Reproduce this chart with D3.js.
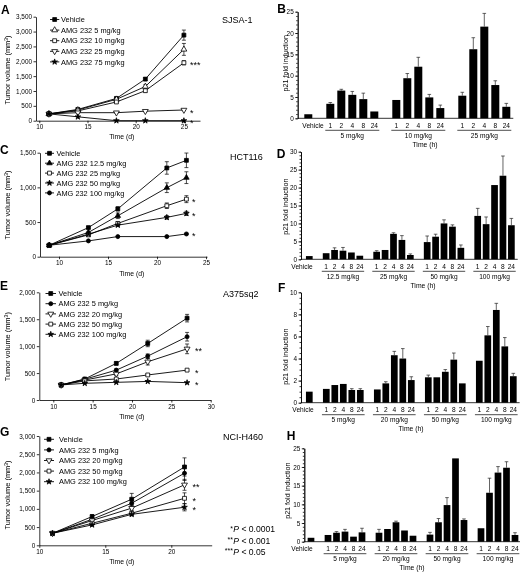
<!DOCTYPE html>
<html lang="en">
<head>
<meta charset="UTF-8">
<title>AMG 232 tumor growth and p21 induction</title>
<script src="https://d3js.org/d3.v7.min.js"></script>
<style>
  body { margin: 0; background: #fff; }
  svg { display: block; font-family: 'Liberation Sans', Arial, Helvetica, sans-serif; will-change: transform; }
  .axis path, .axis line { stroke: #000; stroke-width: 0.8; }
  .axis text { font-size: 6.4px; fill: #000; font-family: 'Liberation Sans', Arial, sans-serif; }
</style>
</head>
<body>
<div id="chart"></div>
<script>
// ---------- tumor volume data (mm3) ----------
const daysA = [11, 14, 18, 21, 25];
const seriesA = ["Vehicle", "AMG 232 5 mg/kg", "AMG 232 10 mg/kg", "AMG 232 25 mg/kg", "AMG 232 75 mg/kg"];
const volumeA = [
  [230, 380, 750, 1400, 2880],
  [230, 360, 720, 1150, 2400],
  [230, 330, 630, 1010, 1950],
  [230, 270, 270, 320, 360],
  [230, 130, 0, 0, 0]
];
const errA = [
  [0, 20, 30, 50, 170],
  [0, 20, 30, 60, 200],
  [0, 20, 30, 50, 70],
  [0, 0, 20, 20, 20],
  [0, 0, 0, 0, 0]
];
const sigA = ["", "", "***", "*", "*"];

const daysC = [9, 13, 16, 21, 23];
const seriesC = ["Vehicle", "AMG 232 12.5 mg/kg", "AMG 232 25 mg/kg", "AMG 232 50 mg/kg", "AMG 232 100 mg/kg"];
const volumeC = [
  [165, 420, 690, 1280, 1390],
  [165, 350, 590, 995, 1140],
  [165, 315, 480, 735, 830],
  [165, 325, 455, 567, 625],
  [165, 228, 290, 290, 328]
];
const errC = [
  [0, 15, 30, 90, 105],
  [0, 15, 40, 70, 85],
  [0, 15, 25, 40, 50],
  [0, 10, 20, 25, 30],
  [0, 0, 0, 0, 10]
];
const sigC = ["", "", "*", "*", "*"];

const daysE = [11, 14, 18, 22, 27];
const seriesE = ["Vehicle", "AMG 232 5 mg/kg", "AMG 232 20 mg/kg", "AMG 232 50 mg/kg", "AMG 232 100 mg/kg"];
const volumeE = [
  [280, 390, 680, 1050, 1520],
  [280, 385, 555, 815, 1175],
  [280, 370, 485, 710, 950],
  [280, 355, 390, 465, 555],
  [280, 310, 328, 345, 322]
];
const errE = [
  [0, 10, 30, 60, 70],
  [0, 10, 20, 40, 80],
  [0, 10, 30, 60, 90],
  [0, 10, 15, 15, 15],
  [0, 0, 0, 0, 0]
];
const sigE = ["", "", "**", "*", "*"];

const daysG = [11, 14, 17, 21];
const seriesG = ["Vehicle", "AMG 232 5 mg/kg", "AMG 232 20 mg/kg", "AMG 232 50 mg/kg", "AMG 232 100 mg/kg"];
const volumeG = [
  [330, 790, 1265, 2150],
  [330, 715, 1155, 1980],
  [330, 680, 1020, 1660],
  [330, 605, 880, 1290],
  [330, 560, 850, 1045]
];
const errG = [
  [0, 50, 160, 250],
  [0, 40, 80, 200],
  [0, 40, 60, 150],
  [0, 30, 40, 150],
  [0, 30, 40, 100]
];
const sigG = ["", "", "**", "*", "*"];

// ---------- p21 fold induction data ----------
const hours = ["1", "2", "4", "8", "24"];

const dosesB = ["5 mg/kg", "10 mg/kg", "25 mg/kg"];
const vehicleB = 0.95;
const foldB = [
  [3.4, 6.5, 5.5, 4.5, 1.6],
  [4.3, 9.4, 12.1, 4.9, 2.4],
  [5.3, 16.2, 21.5, 7.8, 2.7]
];
const semB = [
  [0.3, 0.3, 0.8, 1.4, 0],
  [0, 1.1, 2.2, 0.7, 0.7],
  [0.8, 2.7, 3.1, 1.0, 0.8]
];

const dosesD = ["12.5 mg/kg", "25 mg/kg", "50 mg/kg", "100 mg/kg"];
const vehicleD = 0.9;
const foldD = [
  [1.7, 2.6, 2.4, 1.9, 1.0],
  [2.1, 2.6, 7.1, 5.4, 1.2],
  [4.8, 6.3, 10.0, 9.1, 3.2],
  [12.1, 9.8, 20.7, 23.3, 9.5]
];
const semD = [
  [0, 0.6, 0.9, 0, 0],
  [0.3, 0, 0.3, 1.2, 0.3],
  [1.7, 0.7, 1.0, 0.5, 0.8],
  [2.1, 2.0, 0, 5.5, 1.9]
];

const dosesF = ["5 mg/kg", "20 mg/kg", "50 mg/kg", "100 mg/kg"];
const vehicleF = 1.0;
const foldF = [
  [1.25, 1.6, 1.7, 1.15, 1.15],
  [1.2, 1.75, 4.3, 4.0, 2.05],
  [2.3, 2.3, 2.8, 3.9, 1.75],
  [3.8, 6.1, 8.4, 5.1, 2.4]
];
const semF = [
  [0, 0, 0, 0.12, 0.12],
  [0, 0.15, 0.35, 0.9, 0.3],
  [0.2, 0, 0.2, 0.6, 0],
  [0, 0.8, 0.6, 0.8, 0.26]
];

const dosesH = ["5 mg/kg", "20 mg/kg", "50 mg/kg", "100 mg/kg"];
const vehicleH = 1.05;
const foldH = [
  [1.8, 2.4, 2.7, 1.35, 2.5],
  [2.4, 3.4, 5.2, 3.0, 1.6],
  [1.9, 5.2, 9.8, 22.3, 5.8],
  [3.6, 13.1, 18.5, 19.8, 1.8]
];
const semH = [
  [0, 0.3, 0.6, 0, 1.1],
  [0.9, 0, 0.3, 0, 0],
  [0.6, 1.0, 2.0, 0, 0.3],
  [0, 3.9, 1.6, 1.6, 0.6]
];

const pStars = ["*", "**", "***"];
const pValues = ["0.0001", "0.001", "0.05"];

// ---------- setup ----------
const svg = d3.select("#chart").append("svg")
    .attr("width", 520)
    .attr("height", 573);

const markerSpec = {
    sqF:   { type: d3.symbolSquare, size: 15, open: false },
    sqO:   { type: d3.symbolSquare, size: 15, open: true },
    triU:  { type: d3.symbolTriangle, size: 15, open: true },
    triUF: { type: d3.symbolTriangle, size: 13, open: false },
    triD:  { type: d3.symbolTriangle, size: 15, open: true, rot: true },
    circF: { type: d3.symbolCircle, size: 13, open: false },
    star:  { type: d3.symbolStar, size: 10, open: false }
};

function drawMarker(g, kind, cx, cy) {
    const m = markerSpec[kind];
    g.append("path")
        .attr("d", d3.symbol().type(m.type).size(m.size)())
        .attr("transform", `translate(${cx},${cy})` + (m.rot ? " rotate(180)" : ""))
        .attr("fill", m.open ? "#fff" : "#000")
        .attr("stroke", "#000")
        .attr("stroke-width", 0.8);
}

function letter(g, txt, xy) {
    g.append("text").attr("x", xy[0]).attr("y", xy[1])
        .style("font-size", "12px").style("font-weight", "bold").text(txt);
}

// line chart of tumor volume
function lineChart(L, days, names, vol, err, sig, marks) {
    const g = svg.append("g");
    const x = d3.scaleLinear().domain(L.xDom).range([L.left, L.right]);
    const y = d3.scaleLinear().domain([0, L.yMax]).range([L.bottom, L.top]);

    g.append("g").attr("class", "axis")
        .attr("transform", `translate(0,${L.bottom})`)
        .call(d3.axisBottom(x).tickValues(L.xTicks).tickSize(2.5).tickSizeOuter(0).tickPadding(1.5));
    g.append("g").attr("class", "axis")
        .attr("transform", `translate(${L.left},0)`)
        .call(d3.axisLeft(y).tickValues(d3.range(0, L.yMax + 1, L.yStep))
            .tickFormat(d3.format(",")).tickSize(2.5).tickSizeOuter(0).tickPadding(1.5));

    const line = d3.line().x(d => x(d[0])).y(d => y(d[1]));

    vol.forEach((v, i) => {
        const pts = days.map((d, j) => [d, v[j]]);
        g.append("path").datum(pts)
            .attr("d", line)
            .attr("fill", "none")
            .attr("stroke", "#000")
            .attr("stroke-width", 0.9);
        pts.forEach((p, j) => {
            const e = err[i][j];
            if (e <= 0) return;
            const px = x(p[0]);
            g.append("line").attr("x1", px).attr("x2", px)
                .attr("y1", y(p[1] - e)).attr("y2", y(p[1] + e))
                .attr("stroke", "#000").attr("stroke-width", 0.7);
            [p[1] - e, p[1] + e].forEach(c => {
                g.append("line").attr("x1", px - 2).attr("x2", px + 2)
                    .attr("y1", y(c)).attr("y2", y(c))
                    .attr("stroke", "#000").attr("stroke-width", 0.7);
            });
        });
    });
    vol.forEach((v, i) => {
        days.forEach((d, j) => drawMarker(g, marks[i], x(d), y(v[j])));
        const last = days.length - 1;
        if (sig[i]) {
            g.append("text")
                .attr("x", x(days[last]) + L.sigDx)
                .attr("y", y(v[last]) + 5.5)
                .style("font-size", "9px")
                .text(sig[i]);
        }
    });

    // legend
    names.forEach((n, i) => {
        const ly = L.legY + i * L.legDy;
        g.append("line").attr("x1", L.legX[0]).attr("x2", L.legX[1])
            .attr("y1", ly).attr("y2", ly)
            .attr("stroke", "#000").attr("stroke-width", 0.9);
        drawMarker(g, marks[i], (L.legX[0] + L.legX[1]) / 2, ly);
        g.append("text").attr("x", L.legTextX).attr("y", ly + 2.6)
            .style("font-size", "7.4px").text(n);
    });

    g.append("text").attr("x", L.timeXY[0]).attr("y", L.timeXY[1])
        .attr("text-anchor", "middle").style("font-size", "6.8px").text("Time (d)");

    const yl = g.append("text")
        .attr("transform", `translate(${L.ylabXY[0]},${L.ylabXY[1]}) rotate(-90)`)
        .attr("text-anchor", "middle").style("font-size", "7.4px");
    yl.append("tspan").text("Tumor volume (mm");
    yl.append("tspan").attr("dy", -2.5).style("font-size", "5.2px").text("3");
    yl.append("tspan").attr("dy", 2.5).text(")");

    g.append("text").attr("x", L.cellXY[0]).attr("y", L.cellXY[1])
        .style("font-size", "9px").text(L.cell);
    letter(g, L.letter, L.letterXY);
}

// bar chart of p21 induction
function barChart(L, vehicle, doses, fold, sem) {
    const g = svg.append("g");
    const y = d3.scaleLinear().domain([0, L.yMax]).range([L.zero, L.top]);
    const x = d3.scaleLinear().domain([0, 1]).range([L.slot0, L.slot0 + L.step]);

    const bars = [{ slot: 0, v: vehicle, e: 0 }];
    doses.forEach((d, gi) => fold[gi].forEach((v, k) =>
        bars.push({ slot: 2 + 6 * gi + k, v: v, e: sem[gi][k], label: hours[k] })));
    const lastSlot = d3.max(bars, b => b.slot);

    // minor + major ticks
    g.append("g").attr("class", "axis")
        .attr("transform", `translate(${L.axisX},0)`)
        .call(d3.axisLeft(y).tickValues(d3.range(0, L.yMax + 0.001, L.minor))
            .tickSize(1.5).tickSizeOuter(0).tickFormat(""));
    g.append("g").attr("class", "axis")
        .attr("transform", `translate(${L.axisX},0)`)
        .call(d3.axisLeft(y).tickValues(d3.range(0, L.yMax + 0.001, L.yStep))
            .tickSize(2.5).tickSizeOuter(0).tickPadding(1.5));

    g.selectAll("rect.bar").data(bars).join("rect")
        .attr("class", "bar")
        .attr("x", b => x(b.slot) - L.barW / 2)
        .attr("y", b => y(b.v))
        .attr("width", L.barW)
        .attr("height", b => y(0) - y(b.v))
        .attr("fill", "#000");

    bars.filter(b => b.e > 0).forEach(b => {
        const bx = x(b.slot);
        g.append("line").attr("x1", bx).attr("x2", bx)
            .attr("y1", y(b.v)).attr("y2", y(b.v + b.e))
            .attr("stroke", "#222").attr("stroke-width", 0.7);
        g.append("line").attr("x1", bx - 1.8).attr("x2", bx + 1.8)
            .attr("y1", y(b.v + b.e)).attr("y2", y(b.v + b.e))
            .attr("stroke", "#222").attr("stroke-width", 0.7);
    });

    g.append("line")
        .attr("x1", L.axisX).attr("x2", x(lastSlot) + L.barW / 2 + 3)
        .attr("y1", y(0)).attr("y2", y(0))
        .attr("stroke", "#000").attr("stroke-width", 0.8);

    // category labels
    const numY = y(0) + 9.5;
    g.append("text").attr("x", L.vehX).attr("y", numY)
        .attr("text-anchor", "middle").style("font-size", "6.6px").text("Vehicle");
    bars.filter(b => b.label).forEach(b => {
        g.append("text").attr("x", x(b.slot)).attr("y", numY)
            .attr("text-anchor", "middle").style("font-size", "6.6px").text(b.label);
    });
    doses.forEach((d, gi) => {
        const x0 = x(2 + 6 * gi) - L.barW / 2 - 1;
        const x1 = x(6 + 6 * gi) + L.barW / 2 + 1;
        g.append("line").attr("x1", x0).attr("x2", x1)
            .attr("y1", y(0) + 12).attr("y2", y(0) + 12)
            .attr("stroke", "#000").attr("stroke-width", 0.7);
        g.append("text").attr("x", (x0 + x1) / 2).attr("y", y(0) + 19.5)
            .attr("text-anchor", "middle").style("font-size", "6.6px").text(d);
    });
    g.append("text").attr("x", L.timeX).attr("y", y(0) + 28.5)
        .attr("text-anchor", "middle").style("font-size", "6.8px").text("Time (h)");

    g.append("text")
        .attr("transform", `translate(${L.ylabXY[0]},${L.ylabXY[1]}) rotate(-90)`)
        .attr("text-anchor", "middle").style("font-size", "7.2px").text("p21 fold induction");
    letter(g, L.letter, L.letterXY);
}

// ---------- panels ----------
lineChart({ left: 36, right: 200, top: 16.7, bottom: 120.7, xDom: [9.66, 26.67], xTicks: [10, 15, 20, 25],
            yMax: 3500, yStep: 500, legX: [50, 59.3], legTextX: 61, legY: 19.5, legDy: 10.6, sigDx: 6,
            letter: "A", letterXY: [1, 14], cell: "SJSA-1", cellXY: [222, 23],
            timeXY: [121.7, 138.5], ylabXY: [10, 70] },
          daysA, seriesA, volumeA, errA, sigA, ["sqF", "triU", "sqO", "triD", "star"]);

lineChart({ left: 40, right: 207, top: 152.7, bottom: 256.7, xDom: [8.06, 25.1], xTicks: [10, 15, 20, 25],
            yMax: 1500, yStep: 500, legX: [45, 54], legTextX: 56.5, legY: 153.3, legDy: 9.9, sigDx: 5.5,
            letter: "C", letterXY: [0, 153.5], cell: "HCT116", cellXY: [230, 160],
            timeXY: [131.7, 275.5], ylabXY: [10, 205] },
          daysC, seriesC, volumeC, errC, sigC, ["sqF", "triUF", "sqO", "star", "circF"]);

lineChart({ left: 39.3, right: 210.7, top: 292.3, bottom: 400, xDom: [8.22, 30], xTicks: [10, 15, 20, 25, 30],
            yMax: 2000, yStep: 500, legX: [45.5, 56], legTextX: 58.5, legY: 293.5, legDy: 10.2, sigDx: 8,
            letter: "E", letterXY: [0, 290], cell: "A375sq2", cellXY: [223, 297],
            timeXY: [131.7, 419], ylabXY: [10, 346.7] },
          daysE, seriesE, volumeE, errE, sigE, ["sqF", "circF", "triD", "sqO", "star"]);

lineChart({ left: 39.3, right: 211.7, top: 436, bottom: 545.3, xDom: [10, 23.06], xTicks: [10, 15, 20],
            yMax: 3000, yStep: 500, legX: [44, 54], legTextX: 59, legY: 439.3, legDy: 10.6, sigDx: 8,
            letter: "G", letterXY: [0, 435.5], cell: "NCI-H460", cellXY: [223, 440],
            timeXY: [121.7, 564], ylabXY: [10, 495] },
          daysG, seriesG, volumeG, errG, sigG, ["sqF", "circF", "triD", "sqO", "star"]);

barChart({ axisX: 297.7, zero: 118.3, top: 11.7, yMax: 25, yStep: 5, minor: 1, slot0: 308.3, step: 11,
           barW: 8, vehX: 313, timeX: 425, letter: "B", letterXY: [277.3, 13.3], ylabXY: [288.3, 63.3] },
         vehicleB, dosesB, foldB, semB);

barChart({ axisX: 301, zero: 259.3, top: 151.7, yMax: 30, yStep: 5, minor: 1, slot0: 309.3, step: 8.42,
           barW: 6.7, vehX: 302, timeX: 423, letter: "D", letterXY: [276.7, 158.3], ylabXY: [288.3, 206.7] },
         vehicleD, dosesD, foldD, semD);

barChart({ axisX: 301, zero: 402.7, top: 292.3, yMax: 10, yStep: 2, minor: 0.5, slot0: 309.3, step: 8.5,
           barW: 6.7, vehX: 303, timeX: 411, letter: "F", letterXY: [278, 291.7], ylabXY: [288.3, 356.7] },
         vehicleF, dosesF, foldF, semF);

barChart({ axisX: 304.3, zero: 541.7, top: 448.3, yMax: 25, yStep: 5, minor: 1, slot0: 311, step: 8.5,
           barW: 6.7, vehX: 302, timeX: 412, letter: "H", letterXY: [286.7, 440], ylabXY: [290, 490.7] },
         vehicleH, dosesH, foldH, semH);

// significance key
const key = svg.append("g");
pStars.forEach((s, i) => {
    const ky = 532.3 + i * 11.2;
    key.append("text").attr("x", 233).attr("y", ky - 1.5)
        .attr("text-anchor", "end").style("font-size", "7px").text(s);
    const t = key.append("text").attr("x", 233.3).attr("y", ky).style("font-size", "8.6px");
    t.append("tspan").style("font-style", "italic").text("P");
    t.append("tspan").text(" < " + pValues[i]);
});
</script>
</body>
</html>
